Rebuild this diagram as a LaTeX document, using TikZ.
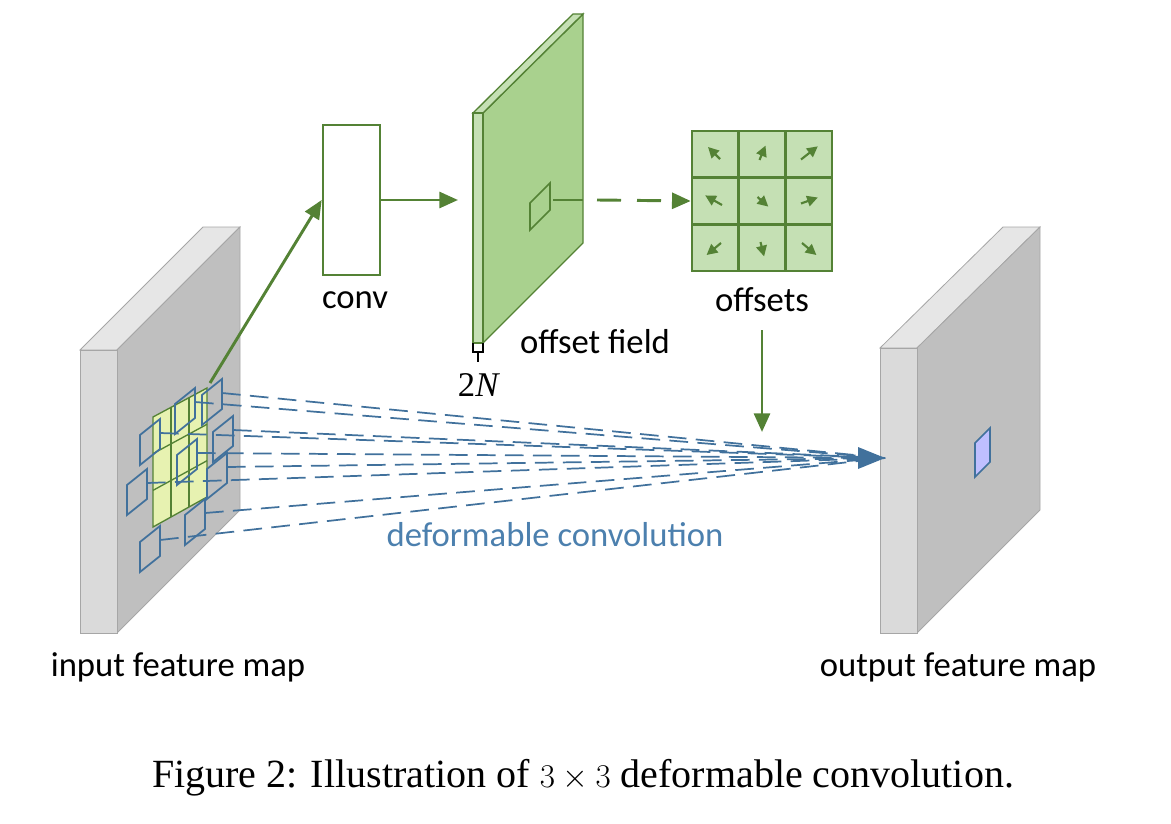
\documentclass[tikz,border=0pt]{standalone}
\usepackage{fontspec}
\setmainfont{Carlito}
\newfontfamily\capfont{Liberation Serif}
\usetikzlibrary{arrows.meta,calc}
\definecolor{dg}{HTML}{548235}
\definecolor{lg}{HTML}{A9D18E}
\definecolor{llg}{HTML}{C5E0B4}
\definecolor{bl}{HTML}{41719C}
\definecolor{bt}{HTML}{4C80AE}
\definecolor{gf}{HTML}{DADADA}
\definecolor{gs}{HTML}{BFBFBF}
\definecolor{gt}{HTML}{E6E6E6}
\tikzset{
 lab/.style={font=\fontsize{26}{30}\selectfont},
 gar/.style={draw=dg,line width=2.2pt,-{Triangle[length=14pt,width=12pt]}},
 bsq/.style={draw=bl,line width=1.3pt},
 bd/.style={draw=bl,line width=1.3pt,dash pattern=on 14pt off 7pt},
 gedge/.style={draw=gray!70,line width=0.6pt},
}
\begin{document}
\begin{tikzpicture}[x=0.75pt,y=-0.75pt]
\useasboundingbox (0,0) rectangle (1171,824);
% input map
\fill[gt,gedge] (80,350)--(117,350)--(240,227)--(203,227)--cycle;
\fill[gs,gedge] (117,350)--(240,227)--(240,510)--(117,633)--cycle;
\fill[gf,gedge] (80,350) rectangle (117,633);
% output map
\fill[gt,gedge] (880,348)--(917,348)--(1040,227)--(1003,227)--cycle;
\fill[gs,gedge] (917,348)--(1040,227)--(1040,510)--(917,633)--cycle;
\fill[gf,gedge] (880,348) rectangle (917,633);
\draw[draw=bl,fill=blue!25,line width=1.3pt] (975,443)--(990,428)--(990,462)--(975,477)--cycle;
% green grid on input
\fill[llg!70!yellow!60,draw=dg,line width=1pt] (153,417)--(207,388)--(207,497)--(153,527)--cycle;
\foreach \t in {0.333,0.667}{
 \draw[dg,line width=1pt] ($(153,417)!\t!(207,388)$) -- ($(153,527)!\t!(207,497)$);
 \draw[dg,line width=1pt] ($(153,417)!\t!(153,527)$) -- ($(207,388)!\t!(207,497)$);}
% blue squares
\coordinate (T) at (885,458);
\foreach \x/\y/\n in {150/433/a,185/402/b,212/393/c,137/483/d,187/453/e,223/430/f,150/540/g,195/513/h,217/467/i}{
 \draw[bsq] (\x-10,\y+2)--(\x+10,\y-14)--(\x+10,\y+16)--(\x-10,\y+32)--cycle;
 \coordinate (\n) at (\x+10,\y);
 \draw[bd] (\n) -- (T);
}
\fill[bl] (885,458) -- (858,447) -- (858,469) -- cycle;
% conv
\node[draw=dg,line width=2pt,minimum width=57*0.75pt,minimum height=150*0.75pt,inner sep=0] (conv) at (351.5,200) {};
\coordinate (src) at (210,383);
\draw[gar] (src) -- (conv.west);
\node[lab] (convl) at (355,300) {conv};
% offset field
\fill[lg,draw=dg,line width=1pt] (483,113)--(583,14)--(583,243)--(483,343)--cycle;
\fill[llg,draw=dg,line width=1pt] (473,113)--(573,14)--(583,14)--(483,113)--cycle;
\fill[llg,draw=dg,line width=1pt] (473,113) rectangle (483,343);
\draw[dg,line width=1.3pt] (530,203)--(550,183)--(550,210)--(530,230)--cycle;
\coordinate (ff) at (458,200);
\draw[gar] (conv.east) -- (ff);
\draw[black,line width=1pt] (473,343)--(473,352)--(483,352)--(483,343) (478,352)--(478,362);
\node[font=\fontsize{26}{30}\selectfont\capfont] (twoN) at (479,385) {2\textit{N}};
\node[lab] (ofl) at (595,342) {offset field};
% offsets grid
\node[fill=llg,draw=dg,line width=2pt,minimum size=140*0.75pt,inner sep=0] (grid) at (762,201) {};
\draw[dg,line width=2pt] (738.7,131)--(738.7,271) (785.3,131)--(785.3,271) (692,177.7)--(832,177.7) (692,224.3)--(832,224.3);
\foreach \cx/\cy/\dx/\dy in {715/154/-10/-10, 762/154/5/-12, 808/154/14/-11, 715/201/-14/-8, 762/201/9/8, 808/201/14/-5, 715/248/-12/10, 762/248/3/12, 808/248/12/10}{
 \draw[dg,line width=1.6pt,-{Triangle[length=8pt,width=8pt]}] (\cx-\dx*0.5,\cy-\dy*0.5) -- (\cx+\dx*0.7,\cy+\dy*0.7);}
\coordinate (fs) at (553,200);
\draw[dg,line width=2pt] (fs) -- (583,200);
\draw[gar,dash pattern=on 18pt off 12pt] (597,200) -- (grid.west);
\node[lab] (offl) at (762,300) {offsets};
\coordinate (down) at (762,432);
\draw[gar] (762,330) -- (down);
% labels
\node[lab] (inl) at (178,667) {input feature map};
\node[lab] (outl) at (958,667) {output feature map};
\node[lab,text=bt] (dcl) at (555,535) {deformable convolution};
\node[font=\fontsize{30}{36}\selectfont\capfont] (cap) at (583,778) {Figure 2: Illustration of $3\times3$ deformable convolution.};
\end{tikzpicture}
\end{document}
